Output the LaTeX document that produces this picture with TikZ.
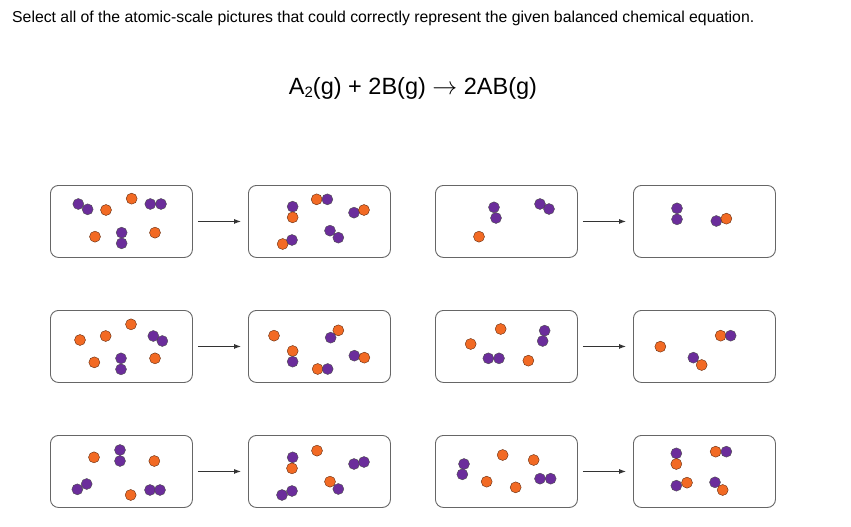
\documentclass[tikz,border=0pt]{standalone}
\usepackage{fontspec}
\setmainfont{Liberation Sans}
\definecolor{pu}{HTML}{6B2D9B}
\definecolor{or}{HTML}{F26A24}
\tikzset{
 box/.style={draw=black!60,line width=0.9pt,rounded corners=8pt},
 ar/.style={-{Latex[length=7pt,width=5pt]},line width=0.9pt,black!80},
 P/.style={circle,fill=pu,draw=black!70,line width=0.4pt,minimum size=11pt,inner sep=0pt},
 O/.style={circle,fill=or,draw=black!60!or,line width=0.4pt,minimum size=11pt,inner sep=0pt}
}
\usetikzlibrary{arrows.meta}
\newcommand{\atoms}[3]{\begin{scope}[shift={(#1,#2)},x=1pt/3,y=-1pt/3]
\foreach \t/\a/\b [count=\i] in {#3} \node[\t] (a\i) at (\a,\b) {};
\end{scope}}
\begin{document}
\begin{tikzpicture}[x=1pt,y=-1pt]
\useasboundingbox (0,0) rectangle (851,527);
\node[anchor=west,font=\fontsize{15.8pt}{18pt}\selectfont,inner sep=0pt] (title) at (12,18) {Select all of the atomic-scale pictures that could correctly represent the given balanced chemical equation.};
\node[font=\fontsize{23.5pt}{26pt}\selectfont] (eq) at (413,88) {A\raisebox{-0.25ex}{\fontsize{15pt}{15pt}\selectfont 2}(g) + 2B(g) $\rightarrow$ 2AB(g)};
\foreach \y [count=\r] in {185,310,435}{
 \node[box,minimum width=142pt,minimum height=72pt,anchor=north west] (b\r1) at (50,\y) {};
 \node[box,minimum width=142pt,minimum height=72pt,anchor=north west] (b\r2) at (248,\y) {};
 \node[box,minimum width=142pt,minimum height=72pt,anchor=north west] (b\r3) at (435,\y) {};
 \node[box,minimum width=142pt,minimum height=72pt,anchor=north west] (b\r4) at (633,\y) {};
 \draw[ar] ([xshift=5pt]b\r1.east) -- ([xshift=-7pt]b\r2.west);
 \draw[ar] ([xshift=5pt]b\r3.east) -- ([xshift=-7pt]b\r4.west);
}
\atoms{45}{180}{P/100/72,P/128/88,O/183/90,O/260/56,P/316/72,P/348/72,O/150/170,P/230/158,P/230/190,O/330/158,P/743/80,O/743/112,O/815/58,P/847/58,P/927/98,O/957/90,P/855/152,P/880/173,O/713/192,P/741/180}
\atoms{430}{180}{P/192/82,P/198/114,P/330/72,P/357/87,O/147/170,P/741/85,P/741/118,P/859/123,O/889/116}
\atoms{45}{305}{O/105/105,O/182/93,O/258/58,P/325/93,P/352/108,O/148/172,P/228/160,P/228/193,O/330/160,O/687/92,O/880/76,P/857/98,O/743/138,P/743/170,O/818/192,P/848/192,P/928/152,O/958/158}
\atoms{430}{305}{O/122/117,O/212/72,P/344/77,P/338/108,P/175/160,P/207/160,O/295/167,O/691/125,O/872/92,P/902/92,P/790/158,O/815/180}
\atoms{45}{430}{O/147/82,P/225/60,P/225/93,O/328/93,P/97/178,P/125/162,O/257/195,P/315/180,P/345/180,P/743/82,O/741/115,O/816/62,P/927/102,P/957/96,O/855/155,P/880/177,P/711/195,P/741/183}
\atoms{430}{430}{P/102/102,P/97/133,O/218/75,O/311/90,O/170/155,O/257/172,P/330/146,P/362/146,P/739/70,O/739/102,O/857/65,P/889/65,P/739/167,O/771/158,P/855/157,O/878/180}
\end{tikzpicture}
\end{document}
